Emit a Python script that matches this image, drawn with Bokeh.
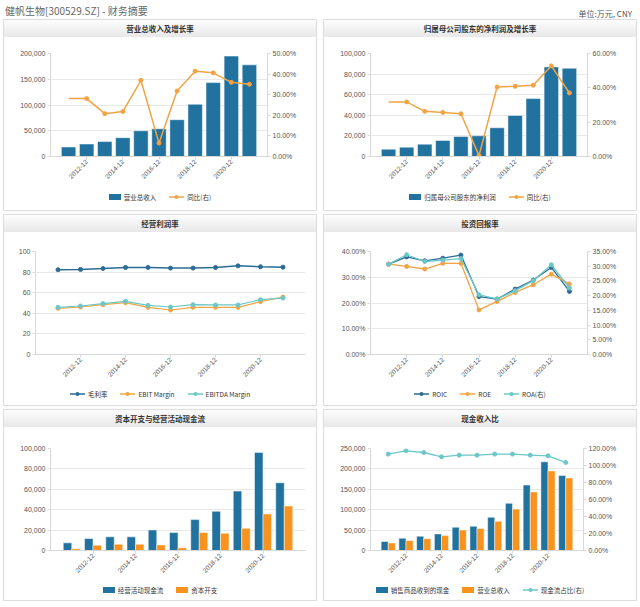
import math

from bokeh.embed import file_html
from bokeh.layouts import column, row
from bokeh.models import (Div, FixedTicker, LinearAxis, NumeralTickFormatter,
                          PrintfTickFormatter, Range1d)
from bokeh.plotting import figure
from bokeh.resources import INLINE

# ---------------------------------------------------------------- data (万元 / %)
periods = ["2011-12", "2012-12", "2013-12", "2014-12", "2015-12", "2016-12",
           "2017-12", "2018-12", "2019-12", "2020-12", "2021-09"]
labelled = [1, 3, 5, 7, 9]

revenue = [18500, 24300, 29000, 36500, 50000, 54000, 71500, 101500, 143500, 195000, 178000]
revenue_yoy = [28.1, 28.1, 20.8, 21.8, 37.0, 6.5, 31.8, 41.4, 40.6, 36.0, 35.1]

net_profit = [7100, 9100, 12000, 15600, 19500, 20100, 27900, 39900, 56200, 87000, 85700]
net_profit_yoy = [31.8, 31.8, 26.3, 25.7, 24.9, 0.5, 40.5, 40.9, 41.5, 52.8, 37.0]

gross_margin = [82.3, 82.6, 83.5, 84.5, 84.5, 83.9, 83.9, 84.5, 86.1, 85.2, 84.8]
ebit_margin = [44.8, 46.1, 48.4, 50.3, 45.8, 43.2, 45.8, 45.8, 45.8, 51.3, 55.8]
ebitda_margin = [45.8, 47.1, 49.4, 51.6, 47.7, 46.1, 48.4, 48.1, 48.1, 53.2, 54.8]

roic = [35.1, 37.9, 36.4, 37.4, 38.6, 22.5, 21.5, 25.4, 28.9, 33.8, 24.5]
roe = [35.1, 34.2, 33.2, 35.4, 35.4, 17.3, 20.6, 24.1, 27.1, 31.2, 27.4]
roa = [30.7, 33.9, 31.6, 32.1, 32.6, 20.3, 18.9, 21.7, 25.1, 30.5, 22.6]

op_cash_flow = [7500, 11700, 13400, 13400, 20200, 17600, 30300, 38400, 58300, 96100, 66400]
capex = [1600, 5200, 6200, 6200, 5500, 2600, 17600, 16900, 21800, 35800, 43600]

cash_from_sales = [22000, 30100, 35000, 40700, 57000, 59400, 81400, 115600, 160400, 217400, 184000]
cash_ratio = [113.4, 117.3, 115.3, 110.2, 112.2, 112.2, 113.4, 113.4, 112.2, 111.4, 103.6]

x = list(range(len(periods)))

# ---------------------------------------------------------------- styling
BLUE = "#22729f"
ORANGE = "#f7931e"
LINE_ORANGE = "#f2a444"
TEAL = "#6cc8c8"
NAVY = "#2b6c96"
CN = "Noto Sans CJK SC"
NUM = "Liberation Sans"

PANEL_W = 312
HEAD_H = 17
KEY_H = 23
FIG_H = 150


def style_axis(ax, size="7px"):
    ax.axis_line_color = "#d8d8d8"
    ax.major_tick_line_color = "#d8d8d8"
    ax.major_tick_out = 3
    ax.major_tick_in = 0
    ax.minor_tick_line_color = None
    ax.major_label_text_font = NUM
    ax.major_label_text_font_size = size
    ax.major_label_text_color = "#555555"
    ax.major_label_standoff = 2


def make_fig(borders, y_end, y_step, y_fmt):
    left, right, top, bottom = borders
    p = figure(width=PANEL_W, height=FIG_H, output_backend="svg", toolbar_location=None,
               x_range=Range1d(-1, 11), y_range=Range1d(0, y_end),
               min_border_left=left, min_border_right=right,
               min_border_top=top, min_border_bottom=bottom,
               outline_line_color=None, border_fill_color="white",
               background_fill_color="white")
    p.xgrid.visible = False
    p.ygrid.grid_line_color = "#e8e8e8"
    yax = p.yaxis[0]
    yax.ticker = FixedTicker(ticks=[y_step * i for i in range(int(round(y_end / y_step)) + 1)])
    yax.formatter = y_fmt
    style_axis(yax)
    xax = p.xaxis[0]
    xax.ticker = FixedTicker(ticks=labelled)
    xax.major_label_overrides = {i: periods[i] for i in labelled}
    xax.major_label_orientation = math.pi / 4
    xax.major_label_standoff = 1
    style_axis(xax, "6.5px")
    xax.major_label_standoff = 1
    return p


def add_right_axis(p, y_end, y_step):
    p.extra_y_ranges = {"r": Range1d(0, y_end)}
    ax = LinearAxis(y_range_name="r",
                    ticker=FixedTicker(ticks=[y_step * i for i in range(int(round(y_end / y_step)) + 1)]),
                    formatter=PrintfTickFormatter(format="%.2f%%"))
    style_axis(ax)
    p.add_layout(ax, "right")


def line_with_marks(p, xs, ys, color, width=1.5, y_range_name="default", skip_first=False):
    p.line(xs, ys, color=color, line_width=width, y_range_name=y_range_name)
    start = 1 if skip_first else 0
    p.scatter(xs[start:], ys[start:], size=4, color=color, y_range_name=y_range_name)


# ---------------------------------------------------------------- key (legend) row under each chart
def swatch(color):
    return (f'<span style="display:inline-block;width:12px;height:6px;background:{color};'
            f'vertical-align:middle;margin-right:3px;"></span>')


def line_mark(color):
    return (f'<svg width="15" height="6" style="vertical-align:middle;margin-right:3px;">'
            f'<line x1="0" y1="3" x2="15" y2="3" stroke="{color}" stroke-width="1.5"/>'
            f'<circle cx="7.5" cy="3" r="2" fill="{color}"/></svg>')


def key_row(entries, top_pad):
    parts = []
    for i, (kind, color, label) in enumerate(entries):
        mark = swatch(color) if kind == "bar" else line_mark(color)
        gap = "" if i == 0 else "margin-left:13px;"
        parts.append(f'<span style="white-space:nowrap;{gap}">{mark}'
                     f'<span style="vertical-align:middle;">{label}</span></span>')
    html = (f'<div style="width:{PANEL_W}px;text-align:center;padding-top:{top_pad}px;'
            f'font-family:\'{CN}\';font-size:6.5px;line-height:10px;color:#333;">'
            + "".join(parts) + '</div>')
    return Div(text=html, width=PANEL_W, height=KEY_H, margin=0,
               styles={"background": "white", "overflow": "hidden"})


def panel(title, fig, key):
    head = Div(text=f'<div style="width:{PANEL_W}px;text-align:center;font-family:\'{CN}\';'
                    f'font-weight:bold;font-size:7.5px;line-height:{HEAD_H}px;color:#333;">{title}</div>',
               width=PANEL_W, height=HEAD_H, margin=0,
               styles={"background": "linear-gradient(#fdfdfd, #e8e8e8)",
                       "text-align": "center", "overflow": "hidden"})
    return column(head, fig, key, spacing=0,
                  styles={"outline": "1px solid #dedede",
                          "box-shadow": "0 0 3px rgba(0,0,0,0.10)"})


# ---------------------------------------------------------------- 营业总收入及增长率
p1 = make_fig((46, 49, 16, 31), 200000, 50000, NumeralTickFormatter(format="0,0"))
add_right_axis(p1, 50, 10)
p1.vbar(x=x, top=revenue, width=0.8, color=BLUE, line_color="white", line_width=0.5)
line_with_marks(p1, x, revenue_yoy, LINE_ORANGE, y_range_name="r", skip_first=True)
k1 = key_row([("bar", BLUE, "营业总收入"), ("line", LINE_ORANGE, "同比(右)")], 3)

# ---------------------------------------------------------------- 归母净利润及增长率
p2 = make_fig((46, 49, 16, 31), 100000, 20000, NumeralTickFormatter(format="0,0"))
add_right_axis(p2, 60, 20)
p2.vbar(x=x, top=net_profit, width=0.8, color=BLUE, line_color="white", line_width=0.5)
line_with_marks(p2, x, net_profit_yoy, LINE_ORANGE, y_range_name="r", skip_first=True)
k2 = key_row([("bar", BLUE, "归属母公司股东的净利润"), ("line", LINE_ORANGE, "同比(右)")], 3)

# ---------------------------------------------------------------- 经营利润率
p3 = make_fig((31, 11, 19, 28), 100, 20, NumeralTickFormatter(format="0"))
line_with_marks(p3, x, gross_margin, NAVY)
line_with_marks(p3, x, ebit_margin, LINE_ORANGE, width=1.2)
line_with_marks(p3, x, ebitda_margin, TEAL, width=1.2)
k3 = key_row([("line", NAVY, "毛利率"), ("line", LINE_ORANGE, "EBIT Margin"),
              ("line", TEAL, "EBITDA Margin")], 6)

# ---------------------------------------------------------------- 投资回报率
p4 = make_fig((46, 49, 19, 28), 40, 10, PrintfTickFormatter(format="%.2f%%"))
add_right_axis(p4, 35, 5)
line_with_marks(p4, x, roic, NAVY, width=1.3)
line_with_marks(p4, x, roe, LINE_ORANGE, width=1.3)
line_with_marks(p4, x, roa, TEAL, width=1.3, y_range_name="r")
k4 = key_row([("line", NAVY, "ROIC"), ("line", LINE_ORANGE, "ROE"),
              ("line", TEAL, "ROA(右)")], 6)

# ---------------------------------------------------------------- 资本开支与经营活动现金流
p5 = make_fig((46, 11, 21, 27), 100000, 20000, NumeralTickFormatter(format="0,0"))
x_left = [v - 0.2 for v in x]
x_right = [v + 0.2 for v in x]
p5.vbar(x=x_left, top=op_cash_flow, width=0.4, color=BLUE, line_color="white", line_width=0.5)
p5.vbar(x=x_right, top=capex, width=0.4, color=ORANGE, line_color="white", line_width=0.5)
k5 = key_row([("bar", BLUE, "经营活动现金流"), ("bar", ORANGE, "资本开支")], 7)

# ---------------------------------------------------------------- 现金收入比
p6 = make_fig((46, 53, 21, 27), 250000, 50000, NumeralTickFormatter(format="0,0"))
add_right_axis(p6, 120, 20)
p6.vbar(x=x_left, top=cash_from_sales, width=0.4, color=BLUE, line_color="white", line_width=0.5)
p6.vbar(x=x_right, top=revenue, width=0.4, color=ORANGE, line_color="white", line_width=0.5)
line_with_marks(p6, x, cash_ratio, TEAL, width=1.3, y_range_name="r")
k6 = key_row([("bar", BLUE, "销售商品收到的现金"), ("bar", ORANGE, "营业总收入"),
              ("line", TEAL, "现金流占比(右)")], 7)

# ---------------------------------------------------------------- page
heading = Div(
    text=('<div style="position:relative;width:640px;height:20px;">'
          f'<span style="position:absolute;left:5px;top:5px;font-family:\'{CN}\';font-size:10px;'
          'line-height:12px;color:#666;white-space:nowrap;">健帆生物[300529.SZ] - 财务摘要</span>'
          f'<span style="position:absolute;right:8px;top:9px;font-family:\'{CN}\';font-size:8px;'
          'line-height:10px;color:#555;white-space:nowrap;">单位:万元, CNY</span></div>'),
    width=640, height=20, margin=0)

grid = column(
    row(panel("营业总收入及增长率", p1, k1), panel("归属母公司股东的净利润及增长率", p2, k2), spacing=8),
    row(panel("经营利润率", p3, k3), panel("投资回报率", p4, k4), spacing=8),
    row(panel("资本开支与经营活动现金流", p5, k5), panel("现金收入比", p6, k6), spacing=8),
    spacing=5, margin=(0, 0, 0, 4))

root = column(heading, grid, spacing=0)

with open("out.html", "w") as f:
    f.write(file_html(root, INLINE, title="健帆生物 财务摘要"))
